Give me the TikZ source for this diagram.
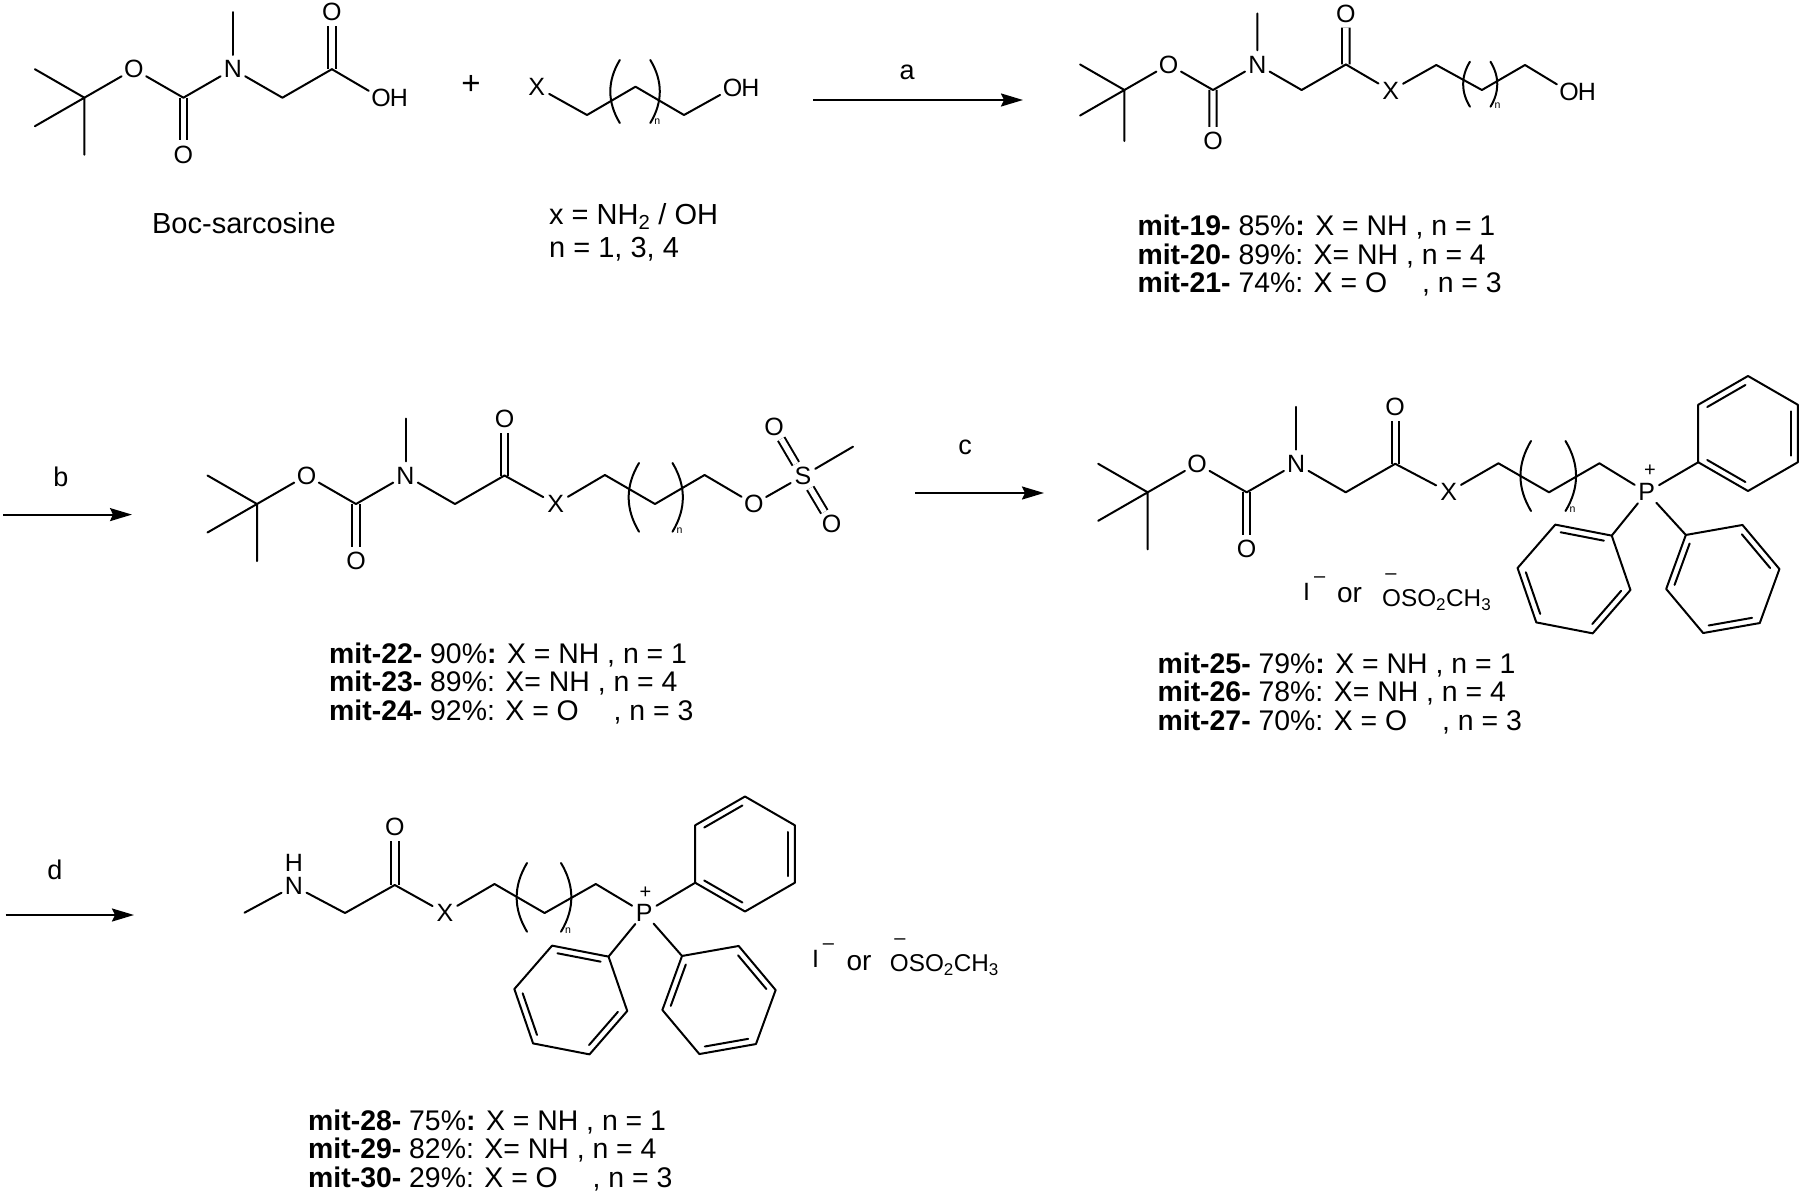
\documentclass[tikz,border=0pt]{standalone}
\usepackage{fontspec}
\setmainfont{Liberation Sans}
\usetikzlibrary{arrows.meta,calc}
\tikzset{
  bond/.style={line width=2pt,line cap=round,line join=round},
  dbl/.style={line width=2pt,double,double distance=5.4pt,line cap=butt},
  atom/.style={circle,inner sep=0pt,minimum size=28pt,font=\fontsize{25}{26}\selectfont},
  atomh/.style={inner sep=0pt,font=\fontsize{25}{26}\selectfont},
  anion/.style={inner sep=0pt,font=\fontsize{24.3}{25}\selectfont},
  nsub/.style={inner sep=0pt,font=\fontsize{10.5}{11}\selectfont},
  charge/.style={inner sep=0pt,font=\fontsize{20}{20}\selectfont},
  caption/.style={inner sep=0pt,font=\fontsize{28.4}{28.4}\selectfont},
  yields/.style={caption,anchor=north west,align=left},
  react/.style={line width=2pt,-{Stealth[length=22pt,width=13pt,inset=3pt]}},
  reagent/.style={inner sep=0pt,font=\fontsize{27}{28}\selectfont},
}
% Boc-N(Me)-CH2-C(=O) part, from the tert-butyl carbon
\newcommand{\bocgroup}[1]{%
  \node[atom] (#1o) at (49.5,-28.5) {O};
  \node[atom] (#1n) at (148.5,-28.5) {N};
  \node[atom] (#1oa) at (99,57) {O};
  \node[atom] (#1ob) at (247.5,-85.5) {O};
  \coordinate (#1tbu) at (0,0);
  \coordinate (#1mea) at (-49.5,-28.5);
  \coordinate (#1meb) at (-49.5,28.5);
  \coordinate (#1mec) at (0,57);
  \coordinate (#1ca) at (99,0);
  \coordinate (#1mn) at (148.5,-85.5);
  \coordinate (#1ch) at (198,0);
  \coordinate (#1cb) at (247.5,-28.5);
  \draw[dbl] (#1ca) -- (#1oa);
  \draw[dbl] (#1cb) -- (#1ob);
  \draw[bond] (#1mea) -- (#1tbu) -- (#1o) -- (#1ca) -- (#1n) -- (#1ch) -- (#1cb);
  \draw[bond] (#1meb) -- (#1tbu) -- (#1mec);
  \draw[bond] (#1n) -- (#1mn);
}
% name, centre x, centre y, angle of the ring atom bound to P
\newcommand{\phenylring}[4]{%
  \coordinate (#1c) at (#2,#3);
  \foreach \k in {0,...,5} {
    \coordinate (#1\k) at ($(#1c)+(#4-60*\k:57.5pt)$);
  }
  \draw[bond] (#10) -- (#11) -- (#12) -- (#13) -- (#14) -- (#15) -- cycle;
  \foreach \a/\b in {1/2,3/4,5/0} {
    \draw[bond,shorten <=3pt,shorten >=3pt] ($(#1c)!.87!(#1\a)$) -- ($(#1c)!.87!(#1\b)$);
  }
}
% left x, right x, top y, bottom y
\newcommand{\nbrackets}[5]{%
  \coordinate (#1lt) at (#2,#4);
  \coordinate (#1lb) at (#2,#5);
  \coordinate (#1rt) at (#3,#4);
  \coordinate (#1rb) at (#3,#5);
  \draw[bond] (#1lt) to[bend right=31] (#1lb);
  \draw[bond] (#1rt) to[bend left=31] (#1rb);
  \node[nsub] (#1sub) at (#3+7,#5-1) {n};
}
\newcommand{\hydrogen}[1]{\node[atomh] (#1h) at ($(#1)+(18,0)$) {H};}
\begin{document}
\begin{tikzpicture}[x=1pt,y=-1pt]
\useasboundingbox (0,0) rectangle (1801,1193);
% Boc-sarcosine + amino alcohol
\begin{scope}[shift={(84.4,97.7)}]
  \bocgroup{sa}
\end{scope}
\node[atom] (saoh) at (381,98) {O};
\hydrogen{saoh}
\draw[bond] (sacb) -- (saoh);
\node[caption,font=\fontsize{29}{29}\selectfont] (bocname) at (244,222.7) {Boc-sarcosine};
\node[caption,font=\fontsize{33}{33}\selectfont] (plus) at (470.9,85) {+};
\node[atom] (lax) at (536.8,87) {X};
\coordinate (laa) at (587,115);
\coordinate (lab) at (635.5,86.7);
\coordinate (lac) at (684,115);
\node[atom] (laoh) at (732.5,88) {O};
\hydrogen{laoh}
\draw[bond] (lax) -- (laa) -- (lab) -- (lac) -- (laoh);
\nbrackets{la}{619.8}{650.3}{60}{123}
\node[caption,anchor=north west,align=left,font=\fontsize{29}{33}\selectfont] (laxn) at (549,203) {x = NH\textsubscript{2} / OH\\n = 1, 3, 4};
% step a
\coordinate (aa) at (813,100);
\coordinate (ab) at (1023,100);
\draw[react] (aa) -- (ab);
\node[reagent] (la) at (907,72) {a};
\begin{scope}[shift={(1124.4,90)},scale=.895]
  \bocgroup{ma}
\end{scope}
\node[atom] (max) at (1390.7,90.7) {X};
\coordinate (maa) at (1436.3,65);
\coordinate (mab) at (1481.9,90);
\coordinate (mac) at (1525,65);
\node[atom] (maoh) at (1569,91.7) {O};
\hydrogen{maoh}
\draw[bond] (macb) -- (max) -- (maa) -- (mab) -- (mac) -- (maoh);
\nbrackets{ma}{1469.9}{1490.5}{61.7}{106.7}
\node[yields] (ya) at (1137.3,215) {\textbf{mit-19-} 85\%\textbf{:} X = NH , n = 1\\\textbf{mit-20-} 89\%: X= NH , n = 4\\\textbf{mit-21-} 74\%: X = O\hspace{.95em} , n = 3};
% step b
\coordinate (ba) at (3.4,514.6);
\coordinate (bb) at (132,514.6);
\draw[react] (ba) -- (bb);
\node[reagent] (lb) at (61,477) {b};
\begin{scope}[shift={(257,504)}]
  \bocgroup{mb}
\end{scope}
\node[atom] (mbx) at (555.7,504) {X};
\coordinate (mba) at (604.9,475);
\coordinate (mbb) at (655,504);
\coordinate (mbc) at (704.6,475);
\node[atom] (mbo) at (753.8,504) {O};
\node[atom] (mbs) at (803,476) {S};
\node[atom] (mbsa) at (774,426.7) {O};
\node[atom] (mbsb) at (831.6,524) {O};
\coordinate (mbme) at (853,446.7);
\draw[dbl] (mbs) -- (mbsa);
\draw[dbl] (mbs) -- (mbsb);
\draw[bond] (mbcb) -- (mbx) -- (mba) -- (mbb) -- (mbc) -- (mbo) -- (mbs) -- (mbme);
\nbrackets{mb}{639}{672.5}{463}{531.7}
\node[yields] (yb) at (329,642.5) {\textbf{mit-22-} 90\%\textbf{:} X = NH , n = 1\\\textbf{mit-23-} 89\%: X= NH , n = 4\\\textbf{mit-24-} 92\%: X = O\hspace{.95em} , n = 3};
% step c
\coordinate (ca) at (915,493);
\coordinate (cb) at (1044,493);
\draw[react] (ca) -- (cb);
\node[reagent] (lc) at (965,447) {c};
\begin{scope}[shift={(1147.7,492.3)}]
  \bocgroup{mc}
\end{scope}
\node[atom] (mcx) at (1448.7,492) {X};
\coordinate (mca) at (1498.4,463.3);
\coordinate (mcb) at (1549,492.3);
\coordinate (mcc) at (1599.4,463.3);
\node[atom] (mcp) at (1646.8,492.3) {P};
\node[charge] (mcplus) at (1650,471) {+};
\draw[bond] (mccb) -- (mcx) -- (mca) -- (mcb) -- (mcc) -- (mcp);
\nbrackets{mc}{1531}{1565.5}{441}{511}
\phenylring{mcpa}{1748}{433.5}{210}
\phenylring{mcpb}{1574}{579}{49}
\phenylring{mcpc}{1722.8}{579}{130}
\draw[bond] (mcp) -- (mcpa0);
\draw[bond] (mcp) -- (mcpb0);
\draw[bond] (mcp) -- (mcpc0);
\node[anion,font=\fontsize{25}{25}\selectfont] (mci) at (1306.7,591.7) {I};
\node[charge] (mcim) at (1319.6,580) {--};
\node[anion,font=\fontsize{28}{28}\selectfont] (mcor) at (1349.6,595) {or};
\node[anion,anchor=west] (mcos) at (1382,600) {OSO\textsubscript{2}CH\textsubscript{3}};
\node[charge] (mcom) at (1391,576.7) {--};
\node[yields] (yc) at (1157.4,652.8) {\textbf{mit-25-} 79\%\textbf{:} X = NH , n = 1\\\textbf{mit-26-} 78\%: X= NH , n = 4\\\textbf{mit-27-} 70\%: X = O\hspace{.95em} , n = 3};
% step d
\coordinate (da) at (5.7,915);
\coordinate (db) at (134,915);
\draw[react] (da) -- (db);
\node[reagent] (ld) at (55,869.5) {d};
\coordinate (mdme) at (244.5,912.7);
\node[atom] (mdn) at (294,886) {N};
\node[atomh] (mdh) at (294,863) {H};
\coordinate (mdch) at (345,913);
\coordinate (mdcb) at (394.8,885);
\node[atom] (mdob) at (394.8,826.7) {O};
\node[atom] (mdx) at (445,913) {X};
\coordinate (mda) at (494.5,884);
\coordinate (mdb) at (544.6,913);
\coordinate (mdc) at (595.8,884);
\node[atom] (mdp) at (644.3,913) {P};
\node[charge] (mdplus) at (645.4,892.7) {+};
\draw[dbl] (mdcb) -- (mdob);
\draw[bond] (mdme) -- (mdn) -- (mdch) -- (mdcb) -- (mdx) -- (mda) -- (mdb) -- (mdc) -- (mdp);
\nbrackets{md}{527}{561}{863}{931.7}
\phenylring{mdpa}{745}{854}{210}
\phenylring{mdpb}{570.8}{1000}{49}
\phenylring{mdpc}{719}{1000}{130}
\draw[bond] (mdp) -- (mdpa0);
\draw[bond] (mdp) -- (mdpb0);
\draw[bond] (mdp) -- (mdpc0);
\node[anion,font=\fontsize{25}{25}\selectfont] (mdi) at (815.6,959) {I};
\node[charge] (mdim) at (828.4,946.7) {--};
\node[anion,font=\fontsize{28}{28}\selectfont] (mdor) at (859,962.7) {or};
\node[anion,anchor=west] (mdos) at (889.7,965) {OSO\textsubscript{2}CH\textsubscript{3}};
\node[charge] (mdom) at (900,942) {--};
\node[yields] (yd) at (308,1109.5) {\textbf{mit-28-} 75\%\textbf{:} X = NH , n = 1\\\textbf{mit-29-} 82\%: X= NH , n = 4\\\textbf{mit-30-} 29\%: X = O\hspace{.95em} , n = 3};
\end{tikzpicture}
\end{document}
